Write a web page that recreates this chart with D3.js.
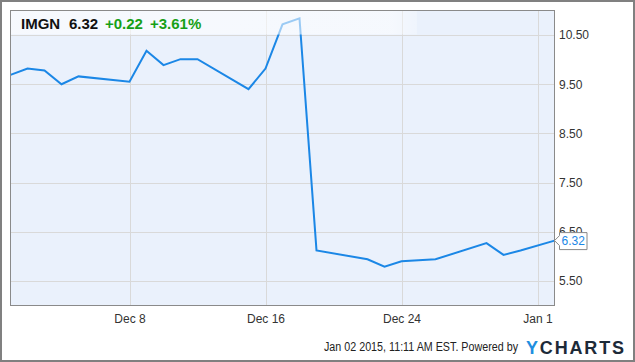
<!DOCTYPE html>
<head>
  <meta charset="utf-8">
  <script src="https://d3js.org/d3.v7.min.js"></script>
  <style>
    body { margin:0; background:#fff; }
    text { font-family: Arial, "Liberation Sans", sans-serif; }
    .grid line { stroke:#d9d9d9; stroke-width:1px; shape-rendering:crispEdges; }
    .grid path { display:none; }
    .lbl text { fill:#333; font-size:12px; }
    .lbl path, .lbl line { display:none; }
  </style>
</head>

<body>
<script>
  // IMGN daily closes, Dec 2014 - Jan 2015
  var dates = ["2014-12-01","2014-12-02","2014-12-03","2014-12-04","2014-12-05",
               "2014-12-08","2014-12-09","2014-12-10","2014-12-11","2014-12-12",
               "2014-12-15","2014-12-16","2014-12-17","2014-12-18","2014-12-19",
               "2014-12-22","2014-12-23","2014-12-24","2014-12-26",
               "2014-12-29","2014-12-30","2014-12-31","2015-01-02"];
  var prices = [9.69, 9.82, 9.78, 9.50, 9.66,
                9.55, 10.18, 9.89, 10.01, 10.01,
                9.40, 9.82, 10.72, 10.84, 6.12,
                5.94, 5.79, 5.90, 5.94,
                6.27, 6.03, 6.12, 6.32];
  var yTicks = [5.5, 6.5, 7.5, 8.5, 9.5, 10.5];
  var xTicks = ["2014-12-08","2014-12-16","2014-12-24","2015-01-01"];
  var xTickLabels = ["Dec 8","Dec 16","Dec 24","Jan 1"];
  var header = ["IMGN", "6.32", "+0.22", "+3.61%"];

  var W = 635, H = 362;
  var plot = {left: 10.5, top: 10.5, right: 554.5, bottom: 305.5};
  var parse = d3.utcParse("%Y-%m-%d");

  var data = dates.map(function(d, i) { return {date: parse(d), v: prices[i]}; });

  var x = d3.scaleUtc()
    .domain([parse("2014-12-01"), parse("2015-01-02")])
    .range([plot.left, plot.right]);
  var y = d3.scaleLinear()
    .domain([5, 11])
    .range([plot.bottom, plot.top]);

  var svg = d3.select("body").append("svg")
    .attr("width", W)
    .attr("height", H);

  // outer frame
  svg.append("rect")
    .attr("x", 1).attr("y", 1)
    .attr("width", W - 2).attr("height", H - 2)
    .attr("fill", "#fff")
    .attr("stroke", "#808080")
    .attr("stroke-width", 2);

  // plot background
  svg.append("rect")
    .attr("x", plot.left).attr("y", plot.top)
    .attr("width", plot.right - plot.left)
    .attr("height", plot.bottom - plot.top)
    .attr("fill", "#eaf1fc");

  // grid lines
  svg.append("g")
    .attr("class", "grid")
    .attr("transform", "translate(0," + plot.bottom + ")")
    .call(d3.axisBottom(x)
      .tickValues(xTicks.map(parse))
      .tickSize(-(plot.bottom - plot.top))
      .tickFormat(""));

  svg.append("g")
    .attr("class", "grid")
    .attr("transform", "translate(" + plot.left + ",0)")
    .call(d3.axisLeft(y)
      .tickValues(yTicks)
      .tickSize(-(plot.right - plot.left))
      .tickFormat(""));

  // price line
  var line = d3.line()
    .x(function(d) { return x(d.date); })
    .y(function(d) { return y(d.v); });

  svg.append("path")
    .datum(data)
    .attr("d", line)
    .attr("fill", "none")
    .attr("stroke", "#1b87e6")
    .attr("stroke-width", 2)
    .attr("stroke-linejoin", "miter");

  // header band (washes out what is under it)
  var grad = svg.append("defs").append("linearGradient")
    .attr("id", "hdr");
  grad.append("stop").attr("offset", "0%").attr("stop-color", "#fff").attr("stop-opacity", 0.6);
  grad.append("stop").attr("offset", "94%").attr("stop-color", "#fff").attr("stop-opacity", 0.55);
  grad.append("stop").attr("offset", "100%").attr("stop-color", "#fff").attr("stop-opacity", 0.25);

  svg.append("rect")
    .attr("x", plot.left).attr("y", plot.top)
    .attr("width", 417 - plot.left)
    .attr("height", 24)
    .attr("fill", "url(#hdr)");

  // plot frame
  svg.append("rect")
    .attr("x", plot.left).attr("y", plot.top)
    .attr("width", plot.right - plot.left)
    .attr("height", plot.bottom - plot.top)
    .attr("fill", "none")
    .attr("stroke", "#8a8a8a")
    .attr("stroke-width", 1);

  // title
  var hx = [21, 69, 105, 150];
  var hc = ["#111", "#111", "#16a016", "#16a016"];
  svg.append("text")
    .attr("y", 29)
    .style("font-size", "15px")
    .style("font-weight", "bold")
    .selectAll("tspan")
    .data(header)
    .enter().append("tspan")
    .attr("x", function(d, i) { return hx[i]; })
    .attr("fill", function(d, i) { return hc[i]; })
    .text(function(d) { return d; });

  // axis labels
  svg.append("g")
    .attr("class", "lbl")
    .attr("transform", "translate(0," + plot.bottom + ")")
    .call(d3.axisBottom(x)
      .tickValues(xTicks.map(parse))
      .tickSize(0)
      .tickPadding(9)
      .tickFormat(function(d, i) { return xTickLabels[i]; }));

  svg.append("g")
    .attr("class", "lbl")
    .attr("transform", "translate(" + plot.right + ",0)")
    .call(d3.axisRight(y)
      .tickValues(yTicks)
      .tickSize(0)
      .tickPadding(4.5)
      .tickFormat(d3.format(".2f")));

  // last value flag
  var last = data[data.length - 1];
  var lx = x(last.date), ly = y(last.v);
  svg.append("path")
    .attr("d", "M" + lx + "," + ly +
      " L" + (lx + 5) + "," + (ly - 5) +
      " L" + (lx + 5) + "," + (ly - 8) +
      " L" + (lx + 32.5) + "," + (ly - 8) +
      " L" + (lx + 32.5) + "," + (ly + 9) +
      " L" + (lx + 5) + "," + (ly + 9) +
      " L" + (lx + 5) + "," + (ly + 5) + " Z")
    .attr("fill", "#fff")
    .attr("stroke", "#888")
    .attr("stroke-width", 1);
  svg.append("text")
    .attr("x", lx + 7)
    .attr("y", ly + 4.5)
    .attr("fill", "#1b87e6")
    .style("font-size", "12px")
    .text(last.v.toFixed(2));

  // footer
  svg.append("text")
    .attr("x", 324)
    .attr("y", 351)
    .attr("fill", "#222")
    .attr("textLength", 194)
    .attr("lengthAdjust", "spacingAndGlyphs")
    .style("font-size", "12px")
    .text("Jan 02 2015, 11:11 AM EST. Powered by");

  var logo = svg.append("text")
    .attr("x", 526)
    .attr("y", 354)
    .attr("textLength", 98)
    .attr("lengthAdjust", "spacing")
    .style("font-size", "18px")
    .style("font-weight", "bold");
  logo.append("tspan").attr("fill", "#1f8fe0").text("Y");
  logo.append("tspan").attr("fill", "#1d2a38").text("CHARTS");
</script>
</body>
